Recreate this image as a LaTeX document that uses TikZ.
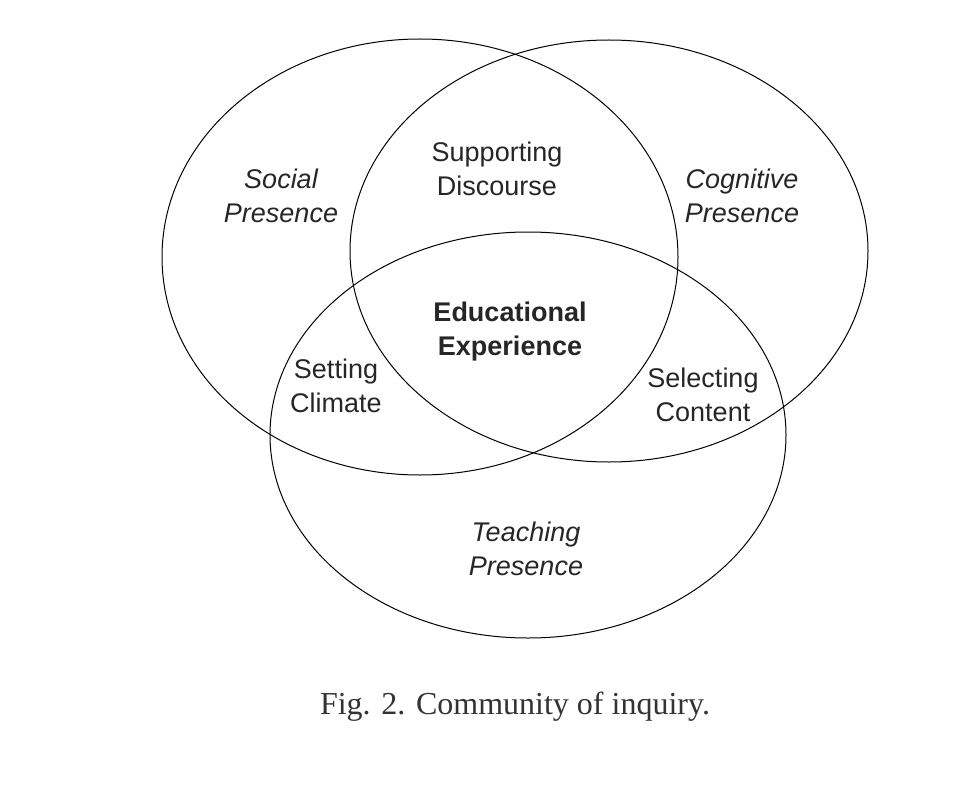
\documentclass[tikz,border=0pt]{standalone}
\usepackage{fontspec}
\setmainfont{Liberation Serif}
\setsansfont{Liberation Sans}
\begin{document}
\begin{tikzpicture}[x=1pt,y=-1pt,
  ring/.style={draw=black,line width=1pt},
  lbl/.style={font=\sffamily\fontsize{27}{34}\selectfont,align=center,text=black!85}]
\useasboundingbox (0,0) rectangle (956,789);
\draw[ring] (420,257) ellipse [x radius=258, y radius=218];
\draw[ring] (609,251) ellipse [x radius=259, y radius=211];
\draw[ring] (528,435) ellipse [x radius=258, y radius=203];
\node[lbl] (sp) at (281,196) {\itshape Social\\\itshape Presence};
\node[lbl] (sd) at (497,169) {Supporting\\Discourse};
\node[lbl] (cp) at (742,196) {\itshape Cognitive\\\itshape Presence};
\node[lbl] (ee) at (510,332) {\bfseries Educational\\\bfseries Experience};
\node[lbl] (sc) at (336,386) {Setting\\Climate};
\node[lbl] (sl) at (703,395) {Selecting\\Content};
\node[lbl] (tp) at (526,549) {\itshape Teaching\\\itshape Presence};
\node[font=\fontsize{32}{38}\selectfont,text=black!80] (cap) at (515,707) {Fig. 2. Community of inquiry.};
\end{tikzpicture}
\end{document}
